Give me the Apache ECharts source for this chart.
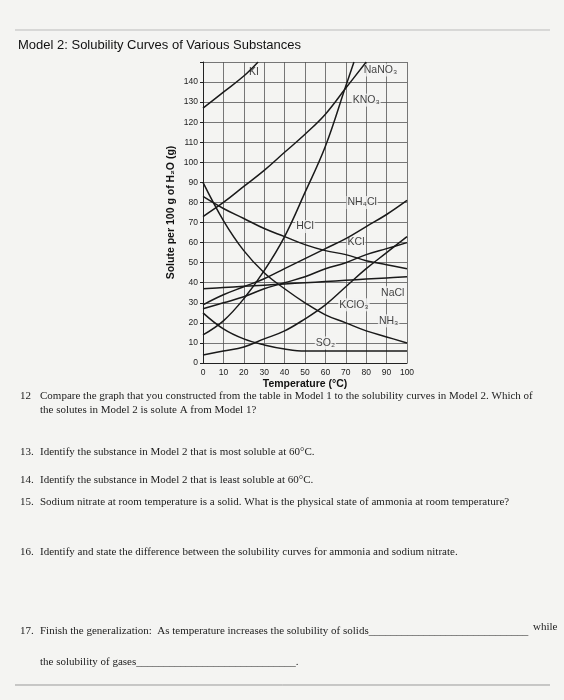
<!DOCTYPE html><html><head><meta charset="utf-8">
<script src="https://cdn.jsdelivr.net/npm/echarts@6/dist/echarts.min.js"></script>
<style>html,body{margin:0;padding:0;background:#f4f4f2}#c{width:564px;height:700px}</style></head><body><div id="c"></div>
<script>
const temps=[0,10,20,30,40,50,60,70,80,90,100];
const KI=[[0,127],[10,135],[20,143],[27,150]];
const NaNO3=[[0,73],[10,80],[20,88],[30,96],[40,105],[50,114],[60,124],[70,137],[80,150]];
const KNO3=[[0,14],[10,21],[20,32],[30,46],[40,63],[50,85],[60,108],[70,138],[74,150]];
const HCl=[83,77,72,67,63,59,56,54,51,49,47];
const NH4Cl=[29,34,38,42,47,52,57,62,68,74,81];
const KCl=[27,30,33,37,40,43,47,50,54,57,60];
const NaCl=[37,37.6,38.2,38.8,39.4,40,40.6,41.2,41.8,42.4,43];
const KClO3=[4,6,8,12,16,22,29,38,47,55,63];
const NH3=[90,71,56,45,37,30,24,20,16,13,10];
const SO2=[25,17,12,9,7,6,6,6,6,6,6];
const labels=[["KI",25,145],["NaNO₃",87,146],["KNO₃",80,131],["NH₄Cl",78,80],["HCl",50,68],["KCl",75,60],["NaCl",93,35],["KClO₃",74,29],["NH₃",91,21],["SO₂",60,10]];
const zip=a=>a.map((v,i)=>[temps[i],v]);
const sets=[KI,NaNO3,KNO3,zip(HCl),zip(NH4Cl),zip(KCl),zip(NaCl),zip(KClO3),zip(NH3),zip(SO2)];
const series=sets.map(d=>({type:'line',data:d,smooth:0.4,symbol:'none',lineStyle:{color:'#1a1a1a',width:1.5},silent:true}));
series.push({type:'scatter',symbolSize:0,data:labels.map(l=>({value:[l[1],l[2]],name:l[0]})),
 label:{show:true,formatter:p=>p.name,color:'#111',fontSize:10.5,fontFamily:'Liberation Sans',backgroundColor:'#f4f4f2',padding:[1,1]}});
const qs=[[20,397,"12"],[40,397,"Compare the graph that you constructed from the table in Model 1 to the solubility curves in Model 2. Which of"],
[40,411,"the solutes in Model 2 is solute A from Model 1?"],[20,453,"13."],[40,453,"Identify the substance in Model 2 that is most soluble at 60°C."],
[20,481,"14."],[40,481,"Identify the substance in Model 2 that is least soluble at 60°C."],
[20,503,"15."],[40,503,"Sodium nitrate at room temperature is a solid. What is the physical state of ammonia at room temperature?"],
[20,553,"16."],[40,553,"Identify and state the difference between the solubility curves for ammonia and sodium nitrate."],
[20,632,"17."],[40,632,"Finish the generalization:  As temperature increases the solubility of solids_____________________________"],
[533,628,"while"],[40,663,"the solubility of gases_____________________________."]];
const g=qs.map(q=>({type:'text',left:q[0],top:q[1]-6,style:{text:q[2],fontSize:11,fontFamily:'Liberation Serif',fill:'#222'}}));
g.push({type:'line',shape:{x1:15,y1:30,x2:550,y2:30},style:{stroke:'#bbb',lineWidth:1}});
g.push({type:'line',shape:{x1:15,y1:685,x2:550,y2:685},style:{stroke:'#999',lineWidth:1}});
g.push({type:'text',left:18,top:39,style:{text:"Model 2: Solubility Curves of Various Substances",fontSize:13,fontFamily:'Liberation Sans',fill:'#111'}});
const c=echarts.init(document.getElementById('c'));
c.setOption({animation:false,backgroundColor:'#f4f4f2',
grid:{left:203,width:204,top:62,height:301},
xAxis:{type:'value',min:0,max:100,interval:10,name:'Temperature (°C)',nameLocation:'middle',nameGap:16,nameTextStyle:{fontWeight:'bold',fontSize:10.5,color:'#111'},
 axisLine:{lineStyle:{color:'#222'}},axisTick:{show:false},axisLabel:{fontSize:8.5,color:'#222',margin:5},splitLine:{lineStyle:{color:'#555',width:0.8}}},
yAxis:{type:'value',min:0,max:150,interval:10,name:'Solute per 100 g of H₂O (g)',nameLocation:'middle',nameGap:26,nameTextStyle:{fontWeight:'bold',fontSize:10.5,color:'#111'},
 axisLine:{show:true,lineStyle:{color:'#222'}},axisTick:{show:true,length:3},axisLabel:{fontSize:8.5,color:'#222',margin:5,formatter:v=>v===150?'':v},splitLine:{lineStyle:{color:'#555',width:0.8}}},
series:series,graphic:g});
</script></body></html>
